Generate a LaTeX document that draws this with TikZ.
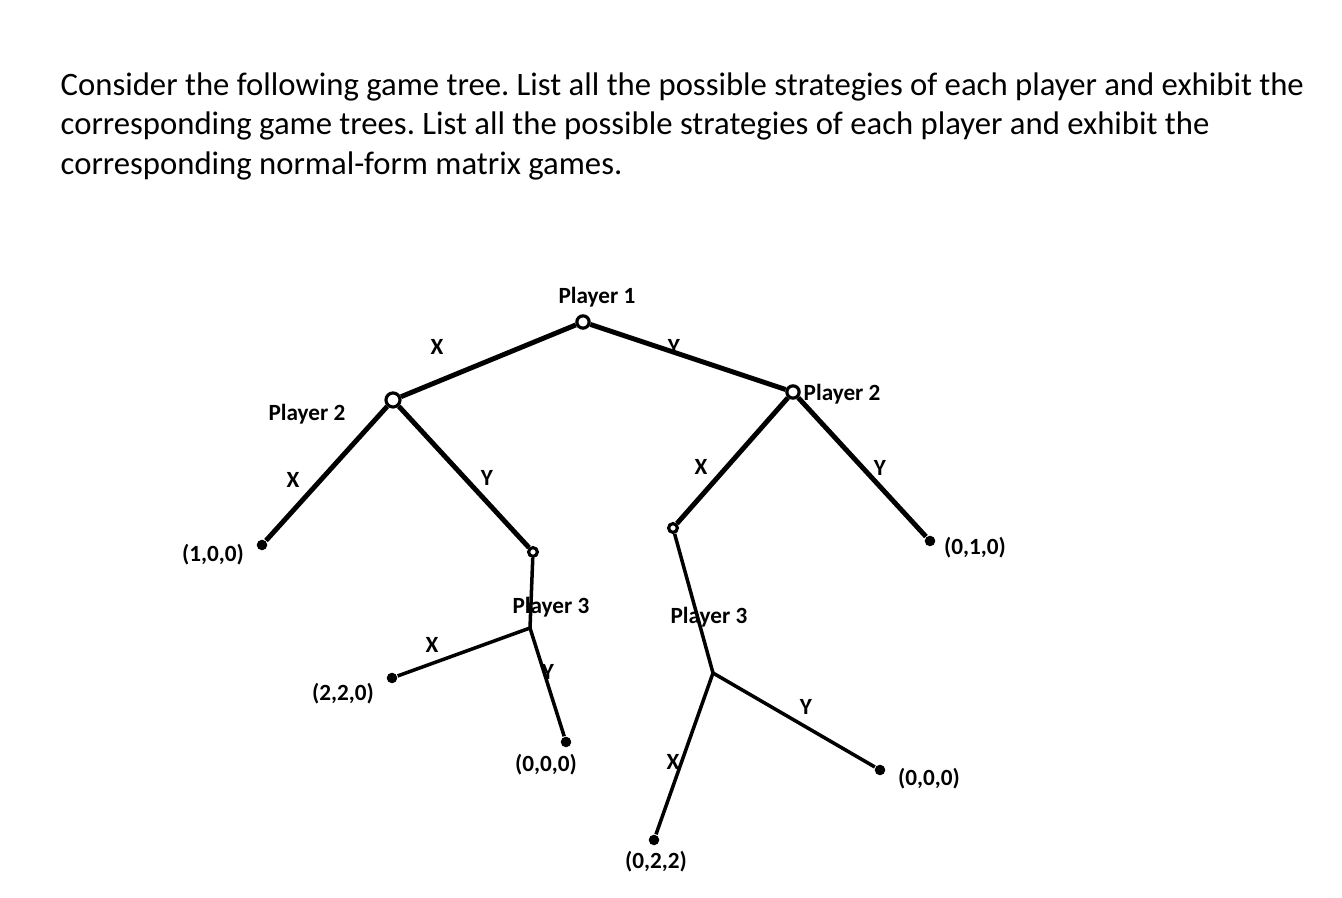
\documentclass[tikz,border=0pt]{standalone}
\usepackage{fontspec}
\setmainfont{Carlito}
\frenchspacing
\begin{document}
\begin{tikzpicture}[x=0.01cm,y=-0.01cm,
  edge/.style={line width=1.4pt,black},
  thin edge/.style={line width=1pt,black},
  lbl/.style={font=\bfseries\fontsize{6.6}{7.5}\selectfont,inner sep=0pt},
  dec/.style={circle,draw,line width=0.9pt,fill=white,inner sep=0pt,minimum size=4pt},
  leaf/.style={circle,fill=black,inner sep=0pt,minimum size=3pt}]
\useasboundingbox (0,0) rectangle (1342,898);
\node[anchor=north west,align=left,inner sep=0pt,font=\fontsize{9.3}{11.2}\selectfont] (title) at (60,72)
 {Consider the following game tree. List all the possible strategies of each player and exhibit the\\
  corresponding game trees. List all the possible strategies of each player and exhibit the\\
  corresponding normal-form matrix games.};
\coordinate (j1) at (530,628);
\coordinate (j2) at (713,673);
\node[dec,minimum size=3.5pt] (p1) at (583,322) {};
\node[dec] (p2l) at (393,400) {};
\node[dec,minimum size=3.5pt] (p2r) at (793,392) {};
\node[dec,minimum size=2.5pt] (p3a) at (533,552) {};
\node[dec,minimum size=2.5pt] (p3b) at (673,528) {};
\node[leaf] (l1) at (262,545) {};
\node[leaf] (l2) at (392,678) {};
\node[leaf] (l3) at (566,742) {};
\node[leaf] (l4) at (654,840) {};
\node[leaf] (l5) at (880,770) {};
\node[leaf] (l6) at (930,541) {};
\draw[edge] (p1) -- (p2l);
\draw[edge] (p1) -- (p2r);
\draw[edge] (p2l) -- (l1);
\draw[edge] (p2l) -- (p3a);
\draw[edge] (p2r) -- (p3b);
\draw[edge] (p2r) -- (l6);
\draw[thin edge] (p3a) -- (j1);
\draw[thin edge] (j1) -- (l2);
\draw[thin edge] (j1) -- (l3);
\draw[thin edge] (p3b) -- (j2);
\draw[thin edge] (j2) -- (l4);
\draw[thin edge] (j2) -- (l5);
\node[lbl] (t1) at (597,297) {Player 1};
\node[lbl] (t2) at (307,414) {Player 2};
\node[lbl,anchor=west] (t3) at (803,394) {Player 2};
\node[lbl] (t4) at (551,607) {Player 3};
\node[lbl] (t5) at (709,617) {Player 3};
\node[lbl] (a1) at (437,347) {X};
\node[lbl] (a2) at (674,347) {Y};
\node[lbl] (a3) at (293,480) {X};
\node[lbl] (a4) at (487,478) {Y};
\node[lbl] (a5) at (701,467) {X};
\node[lbl] (a6) at (880,468) {Y};
\node[lbl] (a7) at (432,645) {X};
\node[lbl] (a8) at (548,672) {Y};
\node[lbl] (a9) at (806,707) {Y};
\node[lbl] (a10) at (673,762) {X};
\node[lbl] (v1) at (213,555) {(1,0,0)};
\node[lbl] (v2) at (343,694) {(2,2,0)};
\node[lbl] (v3) at (546,765) {(0,0,0)};
\node[lbl] (v4) at (656,862) {(0,2,2)};
\node[lbl] (v5) at (929,779) {(0,0,0)};
\node[lbl] (v6) at (975,548) {(0,1,0)};
\end{tikzpicture}
\end{document}
